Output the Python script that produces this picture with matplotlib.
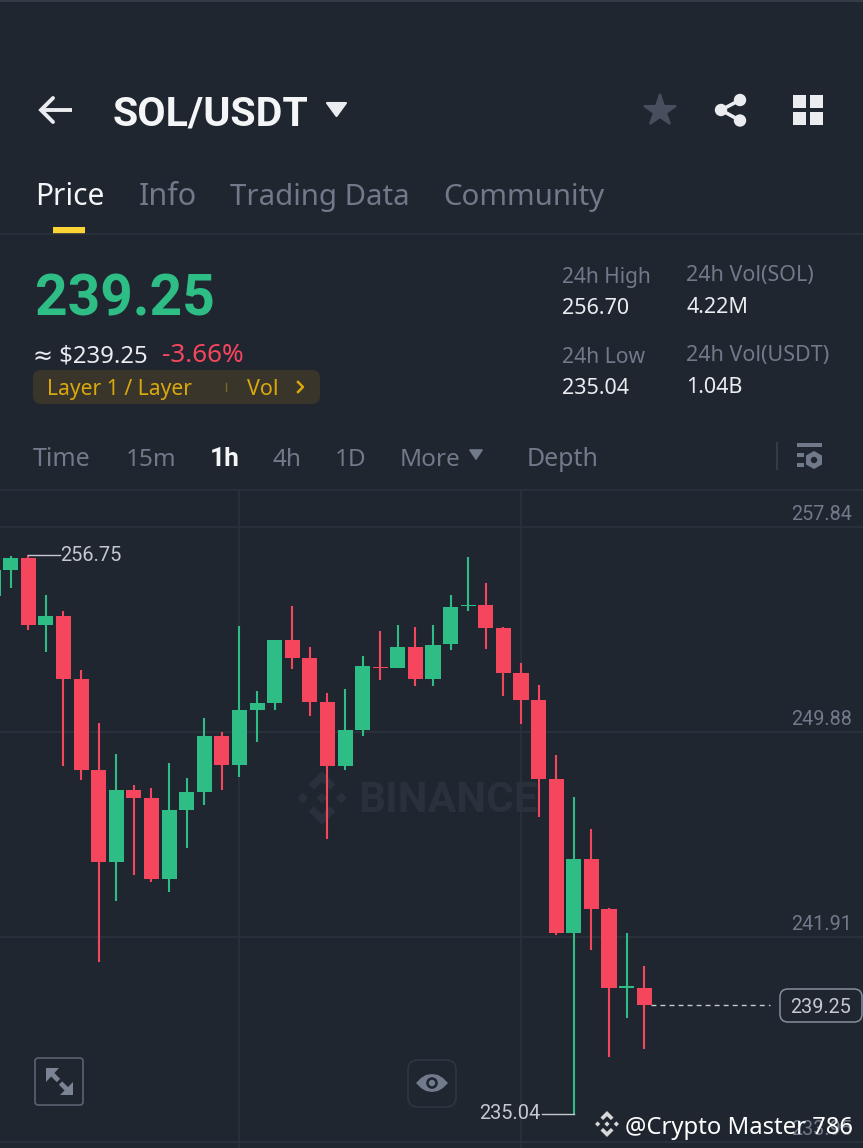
import matplotlib
matplotlib.use("Agg")
import matplotlib.pyplot as plt
from matplotlib.patches import FancyBboxPatch, Polygon, Circle, Rectangle

# ---------- data: 1h candles ----------
opens = [255.16,256.17,256.62,254.03,254.39,251.95,248.40,244.82,247.63,247.32,244.18,246.83,247.54,249.73,248.58,
         250.74,250.99,253.46,252.74,251.06,248.55,249.96,252.42,252.38,253.18,251.92,253.28,254.77,254.82,253.90,
         252.17,251.10,248.06,242.07,244.96,243.00,239.94,239.91]
closes = [256.17,256.62,254.02,254.39,251.95,248.40,244.82,247.63,247.32,244.18,246.83,247.54,249.73,248.58,250.74,
          250.99,253.46,252.74,251.06,248.55,249.96,252.46,252.38,253.18,251.92,253.27,254.75,254.83,253.90,252.17,
          251.10,248.06,242.07,244.96,243.00,239.91,239.99,239.25]
highs = [256.30,256.71,256.75,255.20,254.56,252.28,250.21,249.01,247.82,247.69,248.66,248.09,250.43,249.86,254.01,
         251.48,253.46,254.76,253.18,251.40,251.56,252.84,253.82,254.04,253.96,254.04,255.20,256.69,255.66,253.94,
         252.54,251.72,248.97,247.36,246.11,243.04,242.08,240.79]
lows = [254.90,255.46,253.84,252.99,248.55,248.01,240.94,243.32,244.31,244.04,243.66,245.37,247.05,247.61,248.14,
        249.50,250.72,252.32,250.50,245.71,248.41,249.73,251.88,252.35,251.66,251.66,253.05,254.58,253.09,251.26,
        250.20,246.58,242.00,235.04,241.40,237.25,238.76,237.57]
grid_prices = [257.84, 249.88, 241.91, 233.95]
grid_labels = ["257.84", "249.88", "241.91", "233.95"]
time_grid = [14, 30]
last_price = 239.25
high_mark = 256.75
low_mark = 235.04

tabs = ["Price", "Info", "Trading Data", "Community"]
intervals = ["Time", "15m", "1h", "4h", "1D", "More", "Depth"]

# ---------- colours ----------
BG = "#1F2630"; GRID = "#2B323D"; GREEN = "#2EBD85"; RED = "#F6465D"
WHITE = "#EAECEF"; GREY = "#717A8A"; YEL = "#D9A80F"; LBL = "#C4C9D0"

W, H = 863, 1148
fig = plt.figure(figsize=(W/100, H/100), dpi=100, facecolor=BG)

# ---------- watermark axes, beneath the candles ----------
wm = fig.add_axes([0, 0, 1, 1], facecolor="none", zorder=-1)
wm.set_xlim(0, W); wm.set_ylim(H, 0); wm.axis("off")

# ---------- candle axes (pixel box y 490..1148) ----------
ax = fig.add_axes([0, 0, 1, (H-490)/H], facecolor="none", zorder=0)
ax.set_xlim(0.392, 49.43)
ax.set_ylim(233.71, 259.28)
ax.axis("off")

for p in grid_prices:
    ax.axhline(p, color=GRID, lw=1.3, zorder=1)
for t in time_grid:
    ax.axvline(t, color=GRID, lw=1.1, zorder=1)

colors = [GREEN if c >= o else RED for o, c in zip(opens, closes)]
idx = list(range(len(opens)))
ax.vlines(idx, lows, highs, colors=colors, lw=1.5, zorder=4)
ax.bar(idx, [abs(c-o) for o, c in zip(opens, closes)], bottom=[min(o, c) for o, c in zip(opens, closes)],
       width=0.86, color=colors, linewidth=0, zorder=5)

CHART = "Roboto"
ytr = ax.get_yaxis_transform()
for p, s in zip(grid_prices, grid_labels):
    ax.annotate(s, xy=(852/W, p), xycoords=ytr, xytext=(0, 5), textcoords="offset points",
                ha="right", va="baseline", color=GREY, fontsize=14.2, family=CHART, zorder=3)

# high / low / last price leaders
ax.plot([2, 3.8], [high_mark, high_mark], color=LBL, lw=1, zorder=6)
ax.annotate(f"{high_mark:.2f}", xy=(3.8, high_mark), xytext=(0, -4), textcoords="offset points",
            color=LBL, fontsize=14.4, family=CHART, va="baseline", zorder=6)
ax.plot([31.2, 33], [low_mark, low_mark], color=LBL, lw=1, zorder=6)
ax.annotate(f"{low_mark:.2f}", xy=(31.1, low_mark), xytext=(0, -4), textcoords="offset points", ha="right",
            color=LBL, fontsize=14.4, family=CHART, va="baseline", zorder=6)
ax.plot([37.4, 44.15], [last_price, last_price], color=LBL, lw=1, dashes=(3.5, 3), zorder=3)
ax.annotate(f"{last_price:.2f}", xy=(821/W, last_price), xycoords=ytr, xytext=(0, -5.5), textcoords="offset points",
            ha="center", va="baseline", color=LBL, fontsize=14.2, family=CHART, zorder=7)

# ---------- UI overlay in pixel coordinates ----------
ui = fig.add_axes([0, 0, 1, 1], facecolor="none", zorder=1)
ui.set_xlim(0, W); ui.set_ylim(H, 0); ui.axis("off")

MAIN = ["Noto Sans", "DejaVu Sans"]
def T(x, y, s, size, color, weight="normal", ha="left", fam=MAIN, z=8):
    ui.text(x, y, s, fontsize=size, color=color, fontweight=weight, ha=ha, va="baseline", family=fam, zorder=z)

def rbox(x0, y0, x1, y1, r, fc="none", ec="none", lw=1.0, z=2):
    ui.add_patch(FancyBboxPatch((x0+r, y0+r), x1-x0-2*r, y1-y0-2*r, boxstyle=f"round,pad={r},rounding_size={r}",
                                fc=fc, ec=ec, lw=lw, zorder=z))

def logo(axis, cx, cy, s, color, z=2):
    # central, left and right diamonds, upper and lower chevrons
    def dia(x, y, r):
        axis.add_patch(Polygon([(x, y-r), (x+r, y), (x, y+r), (x-r, y)], fc=color, ec="none", zorder=z))
    dia(cx, cy, 0.2*s); dia(cx-0.72*s, cy, 0.2*s); dia(cx+0.72*s, cy, 0.2*s)
    for sg in (-1, 1):
        axis.add_patch(Polygon([(cx, cy+sg*s), (cx+0.5*s, cy+sg*0.5*s), (cx+0.3*s, cy+sg*0.3*s), (cx, cy+sg*0.6*s),
                                (cx-0.3*s, cy+sg*0.3*s), (cx-0.5*s, cy+sg*0.5*s)], fc=color, ec="none", zorder=z))

# top hairline and separators
ui.plot([0, W], [0.5, 0.5], color="#3A414D", lw=1.2)
ui.plot([0, W], [234, 234], color=GRID, lw=1.2)
ui.plot([0, W], [490, 490], color=GRID, lw=1.2)

# header
ui.plot([72, 41], [110, 110], color=WHITE, lw=2.8, solid_capstyle="butt")
ui.plot([53, 41, 53], [98, 110, 122], color=WHITE, lw=2.8, solid_joinstyle="miter", solid_capstyle="round")
T(113, 125, "SOL/USDT", 29.6, "#F4F5F6", "bold", fam="Roboto")
ui.add_patch(Polygon([(327, 103), (346, 103), (336.5, 116)], fc=WHITE, ec=WHITE, lw=1.5, joinstyle="round"))
ui.plot([660], [111], marker="*", ms=24, mfc="#474F5E", mec="#474F5E", mew=1.5, ls="none")
for a, b in (((721, 110), (740, 100)), ((721, 110), (740, 120.5))):
    ui.plot([a[0], b[0]], [a[1], b[1]], color=WHITE, lw=2.6)
for c in ((740, 100), (721, 110), (740, 120.5)):
    ui.add_patch(Circle(c, 6.2, fc=WHITE, ec="none"))
for x0, y0 in ((793, 95), (810, 95), (793, 112), (810, 112)):
    ui.add_patch(Rectangle((x0, y0), 13.3, 13.3, fc=WHITE, ec="none"))

# tabs
for x, s, c, sz in zip((35, 139, 230, 443), tabs, ("#F4F5F6", GREY, GREY, GREY), (21.6, 22, 21.2, 21.2)):
    T(x, 205, s, sz, c)
ui.add_patch(Rectangle((53, 227), 32, 6.5, fc="#FCD535", ec="none"))

# price block
T(35, 315, "239.25", 41, GREEN, "bold", fam="Roboto")
T(33, 362, "≈ $239.25", 17.2, WHITE)
T(162, 362, "-3.66%", 18.8, RED)
rbox(33, 370, 320, 404, 8, fc="#39352A")
T(47, 395, "Layer 1 / Layer", 15.2, YEL)
ui.plot([226, 226], [383, 391], color="#7A6A28", lw=1)
T(247, 395, "Vol", 15.5, YEL)
ui.plot([298, 303, 298], [382, 387, 392], color=YEL, lw=1.8)

# 24h stats
T(562, 283, "24h High", 15.0, GREY)
T(686, 281, "24h Vol(SOL)", 15.5, GREY)
T(562, 314, "256.70", 15.5, WHITE)
T(686, 313, "4.22M", 15.5, WHITE)
T(562, 363, "24h Low", 15.2, GREY)
T(686, 361, "24h Vol(USDT)", 15.5, GREY)
T(562, 394, "235.04", 15.5, WHITE)
T(686, 393, "1.04B", 15.5, WHITE)

# interval row
for x, s in zip((33, 126, 210, 272, 335, 400, 527), intervals):
    if s == "1h":
        T(x, 466, s, 19, "#F4F5F6", "bold", fam="Roboto")
    elif s in ("Time", "Depth"):
        T(x, 466, s, 18, GREY)
    else:
        T(x, 466, s, 17.5, GREY)
ui.add_patch(Polygon([(470, 450), (482, 450), (476, 459)], fc=GREY, ec=GREY, lw=1.2, joinstyle="round"))
ui.plot([777, 777], [443, 469], color="#39404C", lw=1.2)
ui.add_patch(Rectangle((797, 443), 25, 3.8, fc=GREY, ec="none"))
ui.add_patch(Rectangle((797, 453), 7, 3.5, fc=GREY, ec="none"))
ui.add_patch(Rectangle((797, 463), 7, 3.5, fc=GREY, ec="none"))
ui.add_patch(Polygon([(814, 451), (822, 455.5), (822, 464.5), (814, 469), (806, 464.5), (806, 455.5)], fc=GREY, ec="none"))
ui.add_patch(Circle((814, 460), 3.2, fc=BG, ec="none", zorder=3))

# watermark
wm.text(358, 812, "BINANCE", fontsize=30.5, fontweight="bold", color="#2B313C", family="Roboto", va="baseline")
logo(wm, 322, 798, 27, "#2B313C")

# last-price pill
rbox(780, 989, 862, 1022, 8, fc="none", ec="#848E9C", lw=1.1, z=6)

# expand button
rbox(35, 1058, 83, 1105, 3, ec="#5A6270", lw=1.2)
ARW = "#7B8494"
ui.plot([50, 58.5], [1072, 1080.5], color=ARW, lw=3.4, solid_capstyle="butt")
ui.plot([60.5, 69], [1083, 1091.5], color=ARW, lw=3.4, solid_capstyle="butt")
ui.add_patch(Polygon([(46, 1068), (59, 1068), (46, 1082)], fc=ARW, ec="none"))
ui.add_patch(Polygon([(73, 1095), (60, 1095), (73, 1082)], fc=ARW, ec="none"))

# eye button
rbox(408, 1060, 456, 1107, 10, ec="#2E3541", lw=1.3)
ui.add_patch(Polygon([(416, 1083), (421, 1078), (426, 1075), (432, 1074), (438, 1075), (443, 1078), (448, 1083),
                      (443, 1088), (438, 1091), (432, 1092), (426, 1091), (421, 1088)], fc="#727B8B", ec="none"))
ui.add_patch(Circle((432, 1083), 5.8, fc=BG, ec="none", zorder=3))
ui.add_patch(Circle((432, 1083), 3.2, fc="#727B8B", ec="none", zorder=4))

# credit watermark
logo(ui, 607, 1124, 13, "#D8D8D8", z=8)
T(625, 1134, "@Crypto Master 786", 17.2, "#FFFFFF")

fig.savefig("out.png", dpi=100, facecolor=BG)
